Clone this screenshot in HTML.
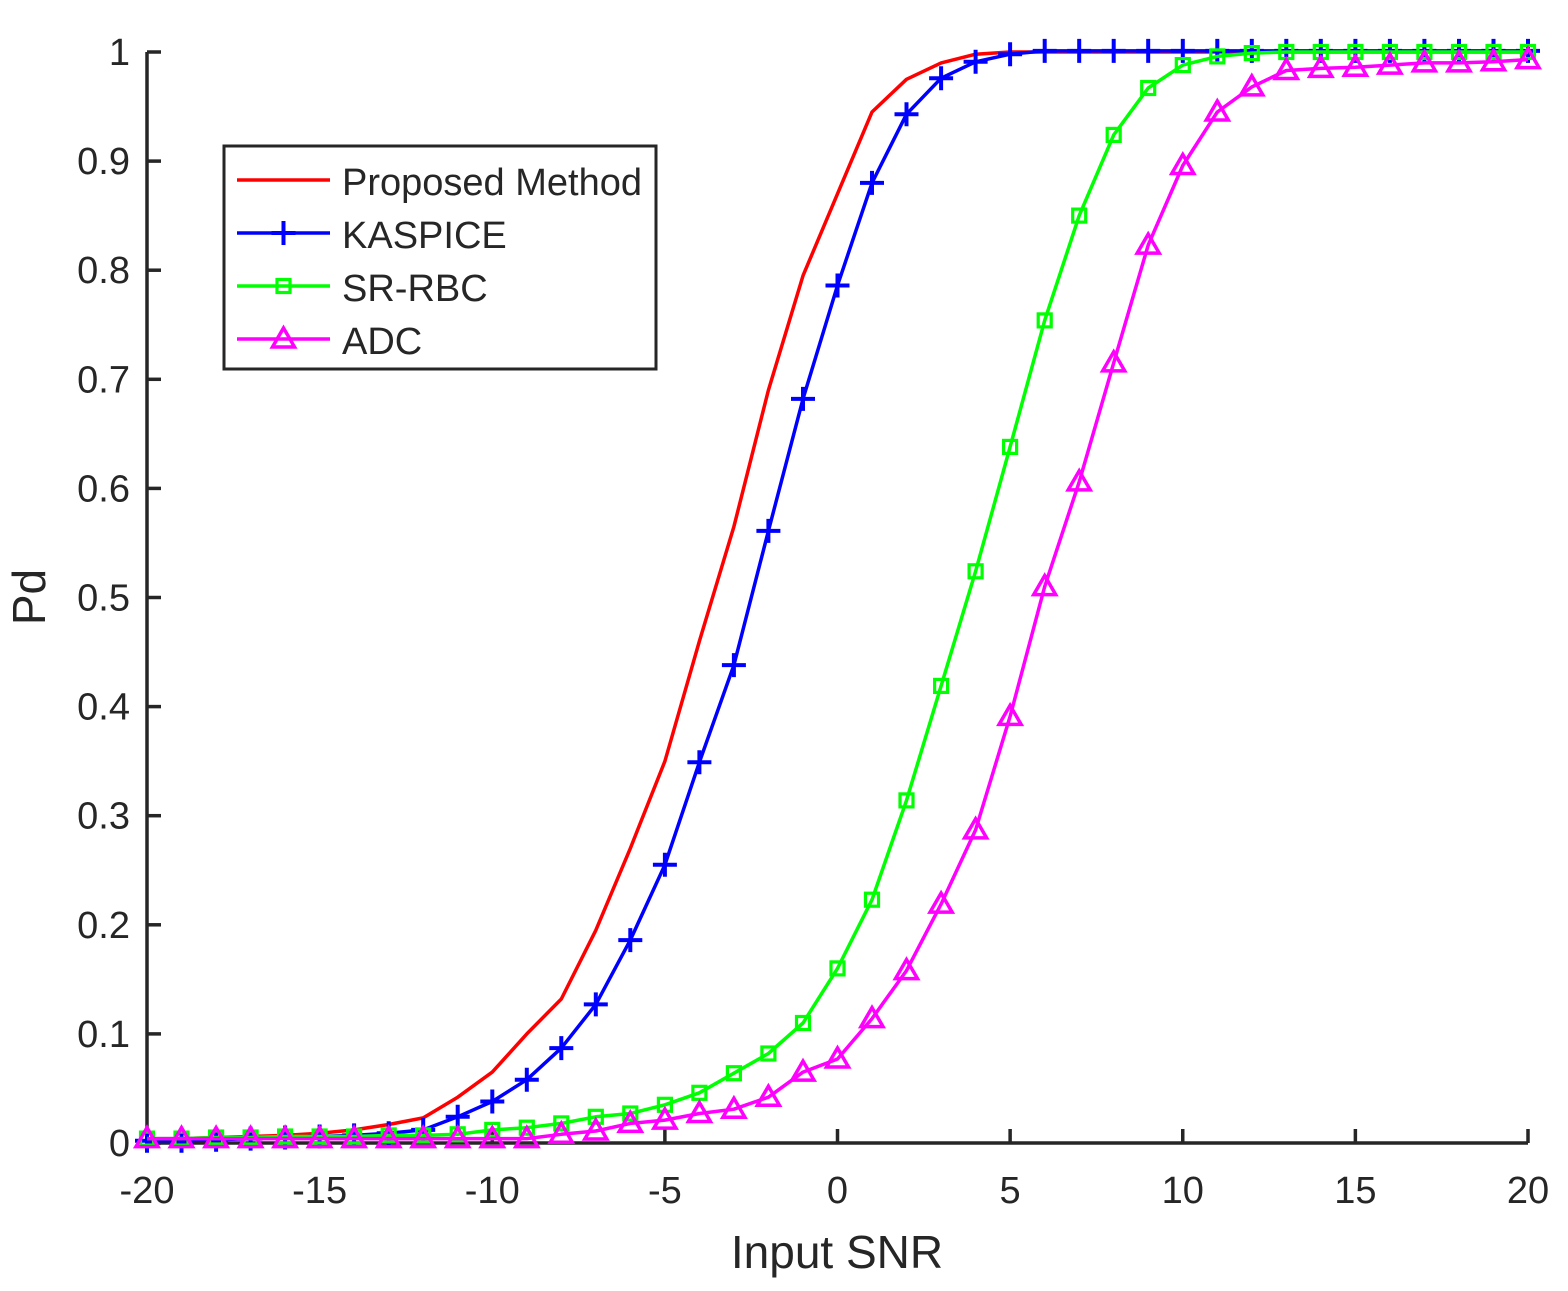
<!DOCTYPE html><html><head><meta charset="utf-8"><style>body{margin:0;background:#fff}svg{display:block}text{font-family:"Liberation Sans",Arial,sans-serif;fill:#262626}</style></head><body>
<svg id="s" width="1568" height="1291" xmlns="http://www.w3.org/2000/svg">
<defs>
<marker id="mp" viewBox="-14 -14 28 28" markerWidth="28" markerHeight="28" markerUnits="userSpaceOnUse" refX="0" refY="0" overflow="visible"><path d="M-12 0H12M0 -12V12" stroke="#0000ff" stroke-width="4"/></marker>
<marker id="ms" viewBox="-9 -9 18 18" markerWidth="18" markerHeight="18" markerUnits="userSpaceOnUse" refX="0" refY="0" overflow="visible"><rect x="-6.5" y="-6.5" width="13" height="13" fill="none" stroke="#00ff00" stroke-width="3.2"/></marker>
<marker id="mt" viewBox="-14 -14 28 28" markerWidth="28" markerHeight="28" markerUnits="userSpaceOnUse" refX="0" refY="0" overflow="visible"><path d="M0 -11L11 8H-11Z" fill="none" stroke="#ff00ff" stroke-width="3.5"/></marker>
</defs>
<g id="g"></g>
<text x="837" y="1268" font-size="46" text-anchor="middle">Input SNR</text>
<text transform="translate(45,597) rotate(-90)" font-size="46" text-anchor="middle">Pd</text>
<rect x="224" y="146" width="432" height="223" fill="#fff" stroke="#262626" stroke-width="3"/>
<line x1="237" y1="180" x2="330" y2="180" stroke="#ff0000" stroke-width="3.5"/>
<polyline points="237,233 283.5,233 330,233" fill="none" stroke="#0000ff" stroke-width="3.5" marker-mid="url(#mp)"/>
<polyline points="237,286 283.5,286 330,286" fill="none" stroke="#00ff00" stroke-width="3.5" marker-mid="url(#ms)"/>
<polyline points="237,339 283.5,339 330,339" fill="none" stroke="#ff00ff" stroke-width="3.5" marker-mid="url(#mt)"/>
<text x="342" y="195" font-size="38">Proposed Method</text>
<text x="342" y="248" font-size="38">KASPICE</text>
<text x="342" y="301" font-size="38">SR-RBC</text>
<text x="342" y="354" font-size="38">ADC</text>
</svg>
<script>
var X=function(x){return 147+(x+20)*34.525},Y=function(y){return 1143-y*1091};
var g=document.getElementById('g'),h='';
h+='<line x1="147" y1="1143" x2="1528" y2="1143" stroke="#262626" stroke-width="3.5"/>';
h+='<line x1="147" y1="1143" x2="147" y2="52" stroke="#262626" stroke-width="3.5"/>';
for(var i=0;i<=10;i++){var y=Y(i/10);h+='<line x1="147" x2="161" y1="'+y+'" y2="'+y+'" stroke="#262626" stroke-width="3.5"/>';
h+='<text x="130" y="'+(y+13)+'" font-size="38" text-anchor="end">'+(i==0?'0':i==10?'1':(i/10).toFixed(1))+'</text>';}
for(var v=-20;v<=20;v+=5){var x=X(v);h+='<line x1="'+x+'" x2="'+x+'" y1="1143" y2="1129" stroke="#262626" stroke-width="3.5"/>';
h+='<text x="'+x+'" y="1203" font-size="38" text-anchor="middle">'+v+'</text>';}
var R=[.003,.004,.005,.006,.007,.009,.012,.017,.023,.042,.065,.1,.132,.195,.27,.35,.46,.565,.69,.795,.87,.945,.975,.99,.998,1,1,1,1,1,1,1,1,1,1,1,1,1,1,1,1];
var K=[.002,.002,.003,.004,.005,.006,.007,.009,.012,.024,.038,.058,.087,.127,.186,.255,.349,.438,.561,.682,.786,.88,.943,.976,.991,.998];
while(K.length<41)K.push(1.001);
var S=[.004,.004,.005,.005,.006,.006,.006,.007,.007,.008,.012,.014,.018,.024,.027,.035,.046,.064,.082,.11,.16,.223,.314,.419,.524,.638,.754,.85,.924,.967,.988,.996,.999];
while(S.length<41)S.push(1);
var A=[.004,.004,.004,.004,.004,.004,.004,.004,.004,.004,.004,.004,.008,.011,.018,.021,.027,.031,.042,.065,.077,.114,.158,.219,.287,.391,.51,.606,.715,.823,.896,.945,.968,.983,.985,.986,.988,.99,.99,.991,.993];
function pl(d,c,m){var p=d.map(function(v,i){return X(i-20).toFixed(1)+','+Y(v).toFixed(1)}).join(' ');
return '<polyline points="'+p+'" fill="none" stroke="'+c+'" stroke-width="3.5" stroke-linejoin="round"'+(m?' marker-start="url(#'+m+')" marker-mid="url(#'+m+')" marker-end="url(#'+m+')"':'')+'/>';}
h+=pl(R,'#ff0000')+pl(K,'#0000ff','mp')+pl(S,'#00ff00','ms')+pl(A,'#ff00ff','mt');
g.innerHTML=h;
</script>
</body></html>
